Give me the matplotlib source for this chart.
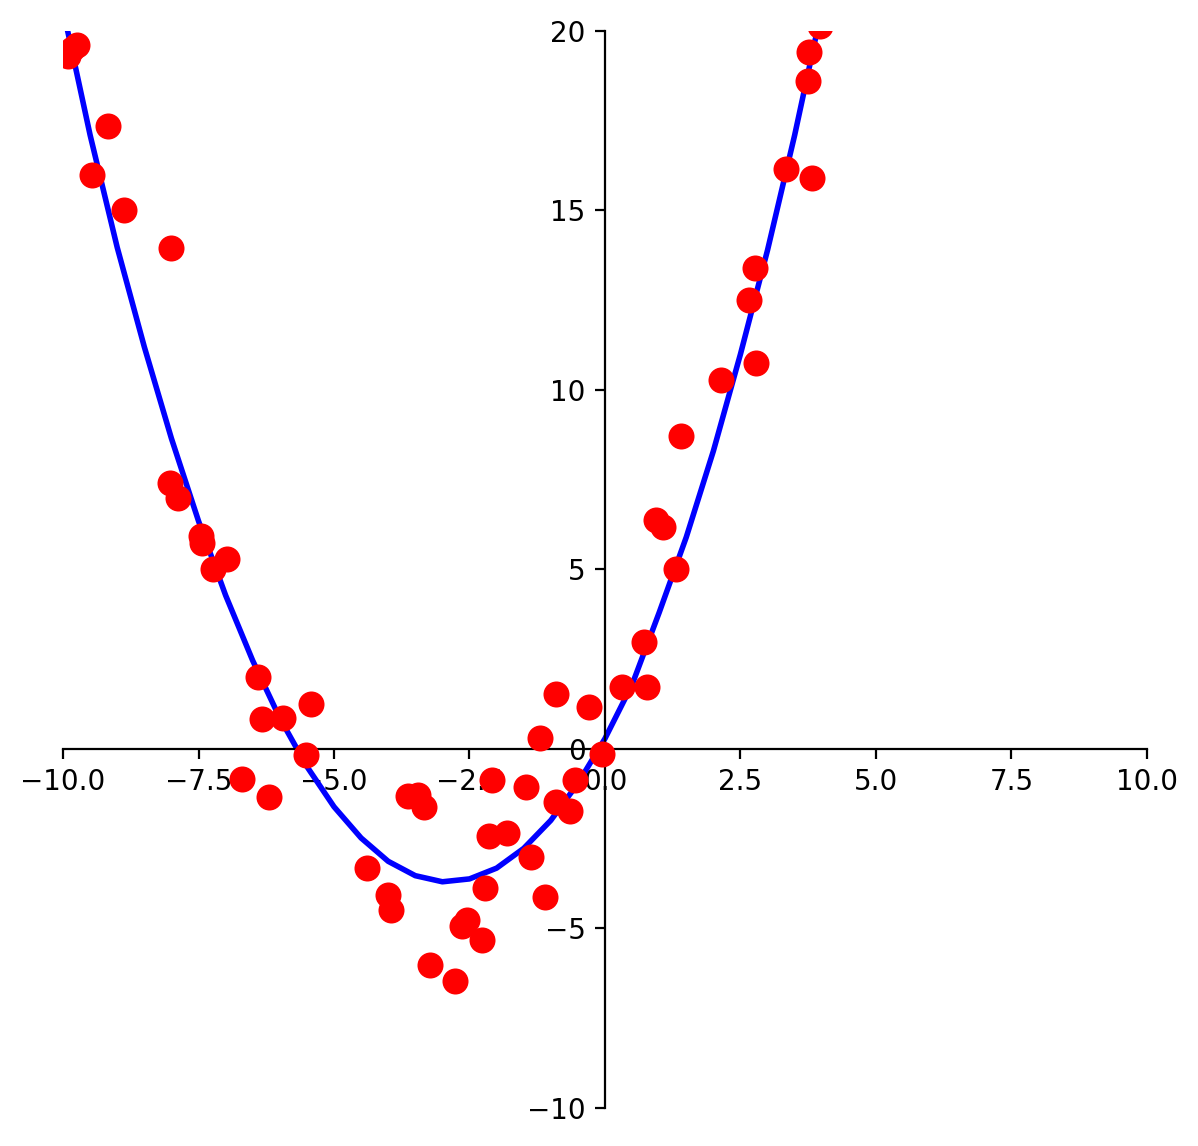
import matplotlib
matplotlib.use("Agg")
import matplotlib.pyplot as plt

pts_x = [-9.91,-9.83,-9.74,-9.46,-9.17,-8.87,-8.0,-8.02,-7.88,-7.45,-7.44,-7.23,-6.97,-6.40,-6.33,-5.94,-5.42,-5.52,-6.70,-6.20,
         -4.39,-4.0,-3.95,-3.63,-3.45,-3.34,-3.23,-2.77,-2.64,-2.55,-2.27,-2.21,-2.14,-2.09,-1.81,-1.46,-1.37,-1.20,-1.11,-0.90,
         -0.90,-0.65,-0.55,-0.30,-0.06,0.31,0.72,0.77,0.94,1.07,1.31,1.40,2.14,2.66,2.77,2.79,3.34,3.82,3.75,3.76,3.97]
pts_y = [19.3,19.5,19.6,16.0,17.35,15.0,13.95,7.4,7.0,5.93,5.74,5.0,5.3,2.0,0.84,0.86,1.25,-0.17,-0.84,-1.34,
         -3.31,-4.07,-4.48,-1.31,-1.28,-1.62,-6.02,-6.46,-4.93,-4.76,-5.32,-3.87,-2.42,-0.86,-2.34,-1.06,-3.0,0.31,-4.12,1.53,
         -1.48,-1.73,-0.86,1.17,-0.14,1.73,2.98,1.73,6.38,6.18,5.0,8.72,10.28,12.5,13.4,10.75,16.15,15.9,18.6,19.4,20.15]

line_x = [-10,-9.5,-9,-8.5,-8,-7.5,-7,-6.5,-6,-5.5,-5,-4.5,-4,-3.5,-3,-2.5,-2,-1.5,-1,-0.5,0,0.5,1,1.5,2,2.5,3,3.5,4]
line_y = [20.6,17.1,13.97,11.20,8.65,6.35,4.28,2.46,0.86,-0.49,-1.61,-2.48,-3.13,-3.53,-3.70,-3.62,-3.32,-2.77,-1.99,-0.96,
          0.29,1.79,3.8,5.9,8.3,11.0,13.9,17.1,20.6]

fig = plt.figure(figsize=(5.99, 5.73), dpi=200)
ax = fig.add_axes([0.0526, 0.0332, 0.9048, 0.9398])
ax.plot(line_x, line_y, color='blue', lw=2)
ax.scatter(pts_x, pts_y, color='red', s=70, zorder=3)
ax.set_xlim(-10, 10)
ax.set_ylim(-10, 20)
ax.spines['left'].set_position('zero')
ax.spines['bottom'].set_position('zero')
ax.spines['right'].set_visible(False)
ax.spines['top'].set_visible(False)
fig.savefig("out.png")
